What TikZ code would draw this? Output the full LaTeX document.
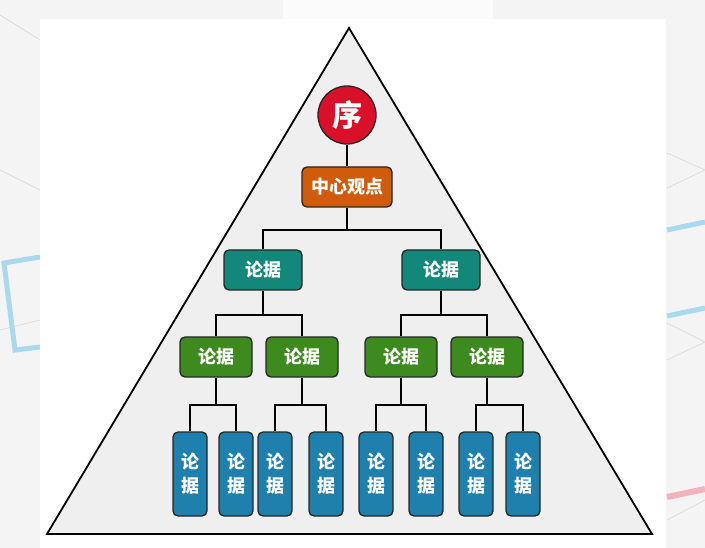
\documentclass[tikz,border=0pt]{standalone}
\usepackage{fontspec}
\newfontfamily\cjk{Noto Sans CJK SC}
\definecolor{cred}{HTML}{D8102A}
\definecolor{corange}{HTML}{CF5B0C}
\definecolor{cteal}{HTML}{12877A}
\definecolor{cgreen}{HTML}{3D8B1F}
\definecolor{cblue}{HTML}{1F80AD}
\definecolor{tri}{HTML}{EFEFEF}
\definecolor{bg}{HTML}{F4F4F4}
\definecolor{decoblue}{HTML}{A9D9EE}
\definecolor{decored}{HTML}{F2B3BB}
\definecolor{decoline}{HTML}{DDDDDD}
\tikzset{
  box/.style={draw=black!85, line width=1.3pt, rounded corners=5pt, inner sep=0pt,
    text=white, font=\cjk\bfseries\fontsize{18}{20}\selectfont},
  vbox/.style={box, fill=cblue, minimum width=34pt, minimum height=84pt, align=center,
    font=\cjk\bfseries\fontsize{18}{24}\selectfont},
  conn/.style={line width=1.8pt, black}
}
\begin{document}
\begin{tikzpicture}[x=1pt,y=-1pt]
\useasboundingbox (0,0) rectangle (705,548);
% background
\fill[bg] (0,0) rectangle (705,548);
\draw[decoline, line width=0.8pt] (0,15) -- (40,40);
\draw[decoline, line width=0.8pt] (0,170) -- (40,190);
\draw[decoline, line width=0.8pt] (0,330) -- (40,320);
\draw[decoline, line width=0.8pt] (667,153) -- (705,170) -- (667,188);
\draw[decoline, line width=0.8pt] (667,323) -- (705,342) -- (667,360);
\draw[decoline, line width=0.8pt] (667,520) -- (705,500);
\draw[decoblue, line width=5pt] (40,257) -- (4,263) -- (15,350) -- (40,347);
\draw[decoblue, line width=5pt] (667,230) -- (705,222);
\draw[decoblue, line width=5pt] (667,316) -- (705,308);
\draw[decored, line width=6pt] (667,497) -- (705,489);
\fill[white] (40,19) rectangle (666,548);
\fill[white!60!bg] (283,0) rectangle (493,19);
% triangle
\draw[fill=tri, line width=1.8pt, line join=miter] (349,28) -- (652,534) -- (47,534) -- cycle;
% nodes
\node[circle, draw=black!85, line width=1.3pt, fill=cred, minimum size=58pt, inner sep=0pt,
  text=white, font=\cjk\bfseries\fontsize{30}{30}\selectfont] (xu) at (347,115) {序};
\node[box, fill=corange, minimum width=90pt, minimum height=40pt] (main) at (347,187) {中心观点};
\node[box, fill=cteal, minimum width=78pt, minimum height=40pt] (t1) at (263,270) {论据};
\node[box, fill=cteal, minimum width=78pt, minimum height=40pt] (t2) at (441,270) {论据};
\node[box, fill=cgreen, minimum width=72pt, minimum height=40pt] (g1) at (216,357) {论据};
\node[box, fill=cgreen, minimum width=72pt, minimum height=40pt] (g2) at (302,357) {论据};
\node[box, fill=cgreen, minimum width=72pt, minimum height=40pt] (g3) at (401,357) {论据};
\node[box, fill=cgreen, minimum width=72pt, minimum height=40pt] (g4) at (487,357) {论据};
\node[vbox] (b1) at (190,474) {论\\据};
\node[vbox] (b2) at (236,474) {论\\据};
\node[vbox] (b3) at (275,474) {论\\据};
\node[vbox] (b4) at (326,474) {论\\据};
\node[vbox] (b5) at (376,474) {论\\据};
\node[vbox] (b6) at (426,474) {论\\据};
\node[vbox] (b7) at (476,474) {论\\据};
\node[vbox] (b8) at (523,474) {论\\据};
% junctions
\coordinate (j0) at (347,230);
\coordinate (j1) at (263,315);
\coordinate (j2) at (441,315);
\coordinate (k1) at (216,405);
\coordinate (k2) at (302,405);
\coordinate (k3) at (401,405);
\coordinate (k4) at (487,405);
% connectors
\draw[conn] (xu.south) -- (main.north);
\draw[conn] (main.south) -- (j0);
\draw[conn] (t1.north) |- (j0) -| (t2.north);
\draw[conn] (t1.south) -- (j1);
\draw[conn] (g1.north) |- (j1) -| (g2.north);
\draw[conn] (t2.south) -- (j2);
\draw[conn] (g3.north) |- (j2) -| (g4.north);
\draw[conn] (g1.south) -- (k1);
\draw[conn] (b1.north) |- (k1) -| (b2.north);
\draw[conn] (g2.south) -- (k2);
\draw[conn] (b3.north) |- (k2) -| (b4.north);
\draw[conn] (g3.south) -- (k3);
\draw[conn] (b5.north) |- (k3) -| (b6.north);
\draw[conn] (g4.south) -- (k4);
\draw[conn] (b7.north) |- (k4) -| (b8.north);
\end{tikzpicture}
\end{document}
